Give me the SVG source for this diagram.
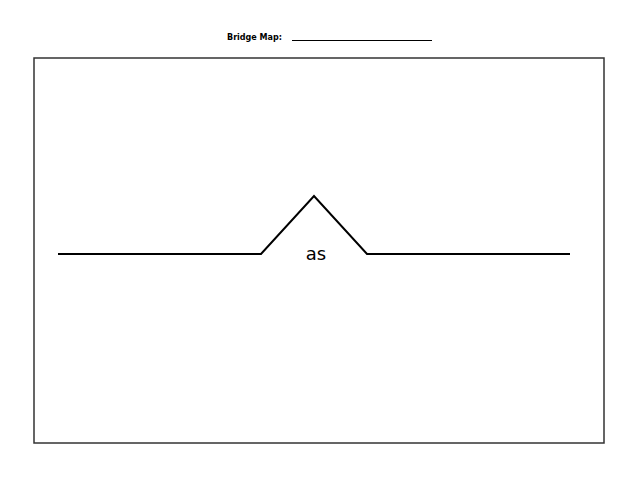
<svg xmlns="http://www.w3.org/2000/svg" width="638" height="493" viewBox="0 0 638 493">
<style>
.t{font-family:"DejaVu Sans","Liberation Sans",sans-serif;fill:#000}
.ln{fill:none;stroke:#000;stroke-width:2}
</style>
<rect width="638" height="493" fill="#fff"/>
<g id="title">
<text class="t" x="227" y="40" font-size="9" font-weight="bold" textLength="55" lengthAdjust="spacingAndGlyphs">Bridge Map:</text>
<line x1="292" y1="40.5" x2="432" y2="40.5" stroke="#000" stroke-width="1"/>
</g>
<g id="frame"><rect x="34" y="58" width="570" height="385" fill="none" stroke="#333" stroke-width="1.5"/></g>
<g id="connectors">
<polyline class="ln" points="58,254 261,254 314,196 367,254 570,254"/>
</g>
<g id="as"><text class="t" x="316" y="260" font-size="18" text-anchor="middle">as</text></g>
</svg>
